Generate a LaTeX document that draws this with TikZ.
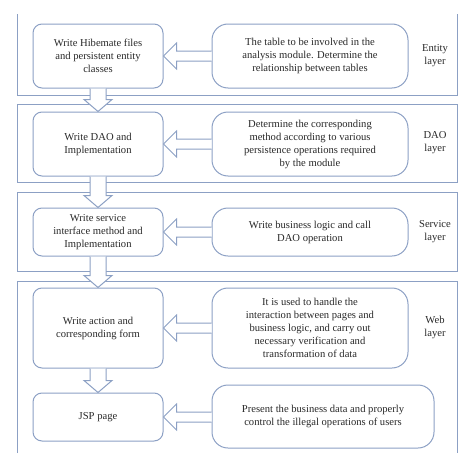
\documentclass[tikz,border=0pt]{standalone}
\usepackage{fontspec}
\setmainfont{Liberation Serif}
\usetikzlibrary{calc}
\definecolor{frame}{RGB}{140,160,196}
\definecolor{ink}{RGB}{40,40,40}
\tikzset{
  task/.style={rectangle,rounded corners=9pt,draw=frame,line width=1pt,align=center,
    minimum width=130pt,text=ink,font=\fontsize{10.6}{13}\selectfont},
  note/.style={task,rounded corners=16pt,minimum width=196pt},
  layer/.style={align=center,text=ink,font=\fontsize{10.6}{13}\selectfont},
  blk/.style={draw=frame,fill=white,line width=1pt,line join=miter}
}
\newcommand\sidearrow[2]{\draw[blk] let \p1=(#1.west),\p2=(#2.east) in
  (\x1,\y2+5pt)--(\x2+13pt,\y2+5pt)--(\x2+13pt,\y2+13pt)--(\x2,\y2)--(\x2+13pt,\y2-13pt)--(\x2+13pt,\y2-5pt)--(\x1,\y2-5pt);}
\newcommand\steparrow[2]{\draw[blk] let \p1=(#1.south),\p2=(#2.north) in
  (\x1-8pt,\y1)--(\x1-8pt,\y2+12pt)--(\x1-14pt,\y2+12pt)--(\x1,\y2)--(\x1+14pt,\y2+12pt)--(\x1+8pt,\y2+12pt)--(\x1+8pt,\y1);}
\begin{document}
\begin{tikzpicture}[x=1pt,y=-1pt]
  \useasboundingbox (0,0) rectangle (474,471);
  % layers
  \draw[frame,line width=1pt] (17,14)--(17,95)--(457,95)--(457,14);
  \draw[frame,line width=1pt] (17,104) rectangle (457,182);
  \draw[frame,line width=1pt] (17,192) rectangle (457,271);
  \draw[frame,line width=1pt] (17,453)--(17,281)--(457,281)--(457,453);
  \node[layer] (entlay) at (435,56) {Entity\\layer};
  \node[layer] (daolay) at (435,143) {DAO\\layer};
  \node[layer] (svclay) at (435,232) {Service\\layer};
  \node[layer] (weblay) at (435,327) {Web\\layer};
  % steps
  \node[task,minimum height=64pt] (hbm) at (98,56) {Write Hibemate files\\and persistent entity\\classes};
  \node[note,minimum height=64pt] (hbmnote) at (310,56) {The table to be involved in the\\analysis module. Determine the\\relationship between tables};
  \node[task,minimum height=64pt] (dao) at (98,144) {Write DAO and\\Implementation};
  \node[note,minimum height=64pt] (daonote) at (310,144) {Determine the corresponding\\method according to various\\persistence operations required\\by the module};
  \node[task,minimum height=48pt] (svc) at (98,232) {Write service\\interface method and\\Implementation};
  \node[note,minimum height=48pt] (svcnote) at (310,232) {Write business logic and call\\DAO operation};
  \node[task,minimum height=80pt] (act) at (98,328) {Write action and\\corresponding form};
  \node[note,minimum height=80pt] (actnote) at (310,328) {It is used to handle the\\interaction between pages and\\business logic, and carry out\\necessary verification and\\transformation of data};
  \node[task,minimum height=48pt] (jsp) at (98,417) {JSP page};
  \node[note,minimum height=63pt,minimum width=222pt] (jspnote) at (323,416.5) {Present the business data and properly\\control the illegal operations of users};
  % arrows
  \sidearrow{hbmnote}{hbm}
  \sidearrow{daonote}{dao}
  \sidearrow{svcnote}{svc}
  \sidearrow{actnote}{act}
  \sidearrow{jspnote}{jsp}
  \steparrow{hbm}{dao}
  \steparrow{dao}{svc}
  \steparrow{svc}{act}
  \steparrow{act}{jsp}
\end{tikzpicture}
\end{document}
